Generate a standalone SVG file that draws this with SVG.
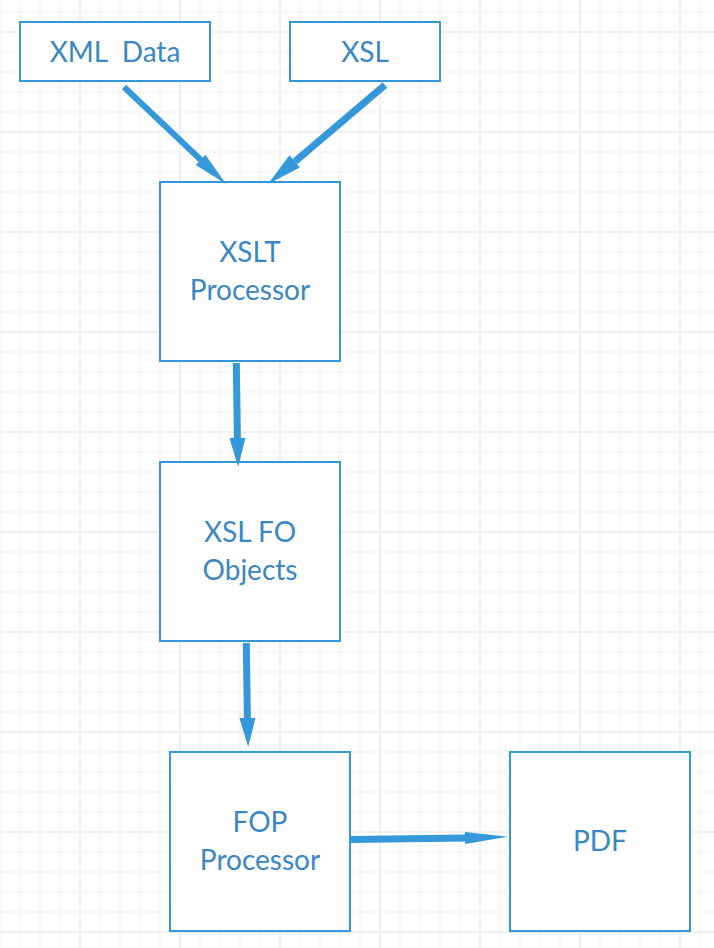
<svg xmlns="http://www.w3.org/2000/svg" width="714" height="948" viewBox="0 0 714 948">
  <defs>
    <pattern id="minor" patternUnits="userSpaceOnUse" x="-10" y="2" width="20" height="20">
      <path d="M10 0 V20 M0 10 H20" stroke="#f1f1f1" stroke-width="1" fill="none"/>
    </pattern>
    <pattern id="major" patternUnits="userSpaceOnUse" x="30" y="-18" width="100" height="100">
      <path d="M50 0 V100 M0 50 H100" stroke="#e8e8e8" stroke-width="1" fill="none"/>
    </pattern>
  </defs>
  <style>
    .box { fill: #ffffff; stroke: #3498db; stroke-width: 2; }
    .lbl { font-family: Lato, "Liberation Sans", sans-serif; font-size: 28px; fill: #3b87c3; text-anchor: middle; }
    .shaft { stroke: #3498db; fill: none; stroke-linecap: butt; }
    .head { fill: #3498db; stroke: none; }
  </style>
  <rect width="714" height="948" fill="#ffffff"/>
  <rect width="714" height="948" fill="url(#minor)"/>
  <rect width="714" height="948" fill="url(#major)"/>

  <g id="n-xml">
    <rect class="box" x="20" y="22" width="190" height="59"/>
    <text class="lbl" x="115" y="62" xml:space="preserve">XML  Data</text>
  </g>
  <g id="n-xsl">
    <rect class="box" x="290" y="22" width="150" height="59"/>
    <text class="lbl" x="365" y="62">XSL</text>
  </g>
  <g id="n-xslt">
    <rect class="box" x="160" y="182" width="180" height="179"/>
    <text class="lbl" x="250" y="262">XSLT</text>
    <text class="lbl" x="250" y="300">Processor</text>
  </g>
  <g id="n-fo">
    <rect class="box" x="160" y="462" width="180" height="179"/>
    <text class="lbl" x="250" y="542">XSL FO</text>
    <text class="lbl" x="250" y="580">Objects</text>
  </g>
  <g id="n-fop">
    <rect class="box" x="170" y="752" width="180" height="179"/>
    <text class="lbl" x="260" y="832">FOP</text>
    <text class="lbl" x="260" y="870">Processor</text>
  </g>
  <g id="n-pdf">
    <rect class="box" x="510" y="752" width="180" height="179"/>
    <text class="lbl" x="600" y="851">PDF</text>
  </g>

  <g id="connectors">
    <line class="shaft" x1="124" y1="87" x2="201" y2="160" stroke-width="6"/>
    <polygon class="head" points="195.8,165 205.4,154.8 226,184"/>
    <line class="shaft" x1="385" y1="85" x2="295" y2="161.5" stroke-width="7"/>
    <polygon class="head" points="289.5,155.3 299.9,167.5 268,184"/>
    <line class="shaft" x1="236.3" y1="363" x2="237.4" y2="439" stroke-width="7"/>
    <polygon class="head" points="229.4,438 245.4,438 238.2,467"/>
    <line class="shaft" x1="246.3" y1="643" x2="247.4" y2="719" stroke-width="7"/>
    <polygon class="head" points="239.4,718 255.4,718 248.2,747"/>
    <line class="shaft" x1="350" y1="839.5" x2="466" y2="838" stroke-width="7"/>
    <polygon class="head" points="465,832 465,844 508,836.8"/>
  </g>
</svg>
